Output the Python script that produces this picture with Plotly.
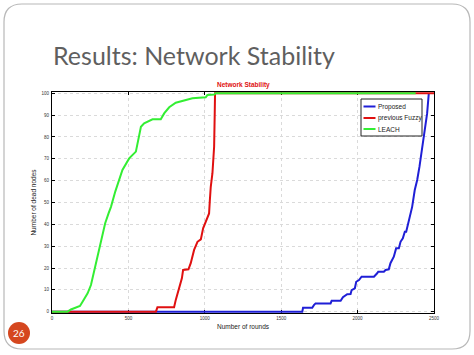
import plotly.graph_objects as go

# ---------------- data ----------------
series_names = ["Proposed", "previous Fuzzy", "LEACH"]
series_colors = ["#1f1fd6", "#e01010", "#33ee33"]

proposed_x = [0, 1638, 1643, 1703, 1714, 1725, 1823, 1830, 1889, 1904, 1932, 1954, 1961, 1982,
              1991, 2009, 2026, 2107, 2128, 2135, 2172, 2183, 2204, 2215, 2237, 2252, 2270, 2281,
              2296, 2309, 2318, 2331, 2346, 2357, 2374, 2390, 2405, 2422, 2440, 2455, 2466]
proposed_y = [0, 0, 1.8, 1.8, 3, 3.8, 3.8, 5, 5, 6.6, 8, 8.1, 9.9, 10.7,
              13.7, 14.5, 16, 16, 17.6, 18.3, 18.3, 19.1, 19.4, 22.2, 25.2, 29, 29, 32,
              33.6, 36.6, 36.6, 40.5, 43.5, 48, 55.7, 60.3, 66.4, 75.5, 83.2, 90.8, 100]

fuzzy_x = [0, 680, 690, 799, 810, 832, 850, 858, 893, 908, 930, 952, 974, 989, 1006,
           1028, 1033, 1039, 1050, 1056, 1061, 1065, 1067, 2500]
fuzzy_y = [0, 0, 2, 2, 5.4, 10.7, 15.3, 19.1, 19.4, 22.2, 28.3, 32, 33.1, 38.2, 41.2,
           45, 51, 57.2, 63.4, 70.2, 75.5, 90.8, 100, 100]

leach_x = [0, 102, 124, 157, 183, 200, 233, 255, 270, 288, 309, 331, 348, 370, 386, 414,
           440, 461, 505, 549, 582, 603, 658, 712, 734, 767, 810, 876, 919, 1006, 1017,
           1061, 1072, 2380]
leach_y = [0, 0, 1, 2, 2.6, 4.6, 8.4, 12.2, 16.8, 23.7, 29.8, 35.9, 40.5, 45, 48, 55,
           60.3, 64.9, 70.2, 73.3, 84.7, 86.3, 88.1, 88.1, 90.8, 93.6, 95.7, 96.9, 97.7, 98.2, 99.2,
           99.4, 100, 100]

x_ticks = [0, 500, 1000, 1500, 2000, 2500]
y_ticks = [0, 10, 20, 30, 40, 50, 60, 70, 80, 90, 100]

slide_title = "Results: Network Stability"
chart_title = "Network Stability"
x_title = "Number of rounds"
y_title = "Number of dead nodes"
slide_number = "26"

# ---------------- layout geometry ----------------
W, H = 474, 355
ML, MR, MT, MB = 52, 40, 92, 42
PW, PH = W - ML - MR, H - MT - MB


def px(x):
    return (x - ML) / PW


def py(y):
    return (H - MB - y) / PH


fig = go.Figure()
xs = [proposed_x, fuzzy_x, leach_x]
ys = [proposed_y, fuzzy_y, leach_y]
for name, color, x, y in zip(series_names, series_colors, xs, ys):
    fig.add_trace(go.Scatter(x=x, y=y, mode="lines", name=name,
                             line=dict(color=color, width=2), showlegend=False))

shapes = []
annotations = []

# slide border (rounded rectangle)
x0, x1, y0, y1, r = 4, 470, 4, 349, 18
rx, ry = r / PW, r / PH
X0, X1, Y0, Y1 = px(x0), px(x1), py(y1), py(y0)
path = (f"M {X0+rx},{Y0} L {X1-rx},{Y0} Q {X1},{Y0} {X1},{Y0+ry} "
        f"L {X1},{Y1-ry} Q {X1},{Y1} {X1-rx},{Y1} L {X0+rx},{Y1} "
        f"Q {X0},{Y1} {X0},{Y1-ry} L {X0},{Y0+ry} Q {X0},{Y0} {X0+rx},{Y0} Z")
shapes.append(dict(type="path", xref="paper", yref="paper", path=path,
                   line=dict(color="#b8b8b8", width=1.2), layer="below"))

# slide number circle
cx, cy, cr = 19, 333, 11
shapes.append(dict(type="circle", xref="paper", yref="paper",
                   x0=px(cx - cr), x1=px(cx + cr), y0=py(cy + cr), y1=py(cy - cr),
                   fillcolor="#d5471f", line=dict(width=0)))
annotations.append(dict(text=slide_number, x=px(cx), y=py(cy), xref="paper", yref="paper",
                        showarrow=False, font=dict(family="Lato", size=10, color="white"),
                        xanchor="center", yanchor="middle"))

# slide title
annotations.append(dict(text=slide_title, x=px(51), y=py(55), xref="paper", yref="paper",
                        showarrow=False, xanchor="left", yanchor="middle",
                        font=dict(family="Lato", size=25, color="#5f5f5f")))

# chart title
annotations.append(dict(text="<b>" + chart_title + "</b>", x=px(243), y=py(85),
                        xref="paper", yref="paper", showarrow=False,
                        xanchor="center", yanchor="middle",
                        font=dict(family="Liberation Sans", size=6.5, color="#e01010")))

# custom legend
lx0, lx1, ly0, ly1 = 361, 422, 99, 136
shapes.append(dict(type="rect", xref="paper", yref="paper",
                   x0=px(lx0), x1=px(lx1), y0=py(ly1), y1=py(ly0),
                   fillcolor="white", line=dict(color="#222222", width=1)))
entry_y = [106.5, 118, 129]
for name, color, ey in zip(series_names, series_colors, entry_y):
    shapes.append(dict(type="line", xref="paper", yref="paper",
                       x0=px(363.5), x1=px(375.5), y0=py(ey), y1=py(ey),
                       line=dict(color=color, width=2)))
    annotations.append(dict(text=name, x=px(376), y=py(ey), xref="paper", yref="paper",
                            showarrow=False, xanchor="left", yanchor="middle",
                            font=dict(family="Liberation Sans", size=6.5, color="#222222")))

axis_common = dict(showline=True, linecolor="black", linewidth=1, mirror="allticks",
                   ticks="inside", ticklen=3, tickcolor="black", layer="below traces",
                   showgrid=True, gridcolor="#dadada", griddash="dot", gridwidth=0.7,
                   zeroline=False,
                   tickfont=dict(family="Liberation Sans", size=4.5, color="#333333"))

fig.update_layout(
    width=W, height=H,
    margin=dict(l=ML, r=MR, t=MT, b=MB, pad=0),
    paper_bgcolor="white", plot_bgcolor="white",
    xaxis=dict(range=[0, 2500], tickvals=x_ticks, ticklabelstandoff=1,
               title=dict(text=x_title, standoff=4,
                          font=dict(family="Liberation Sans", size=6.5, color="#222222")),
               **axis_common),
    yaxis=dict(range=[-0.6, 100.6], tickvals=y_ticks, ticklabelstandoff=1,
               title=dict(text=y_title, standoff=4,
                          font=dict(family="Liberation Sans", size=6.5, color="#222222")),
               **axis_common),
    shapes=shapes,
    annotations=annotations,
    showlegend=False,
)

fig.write_html("out.html")
